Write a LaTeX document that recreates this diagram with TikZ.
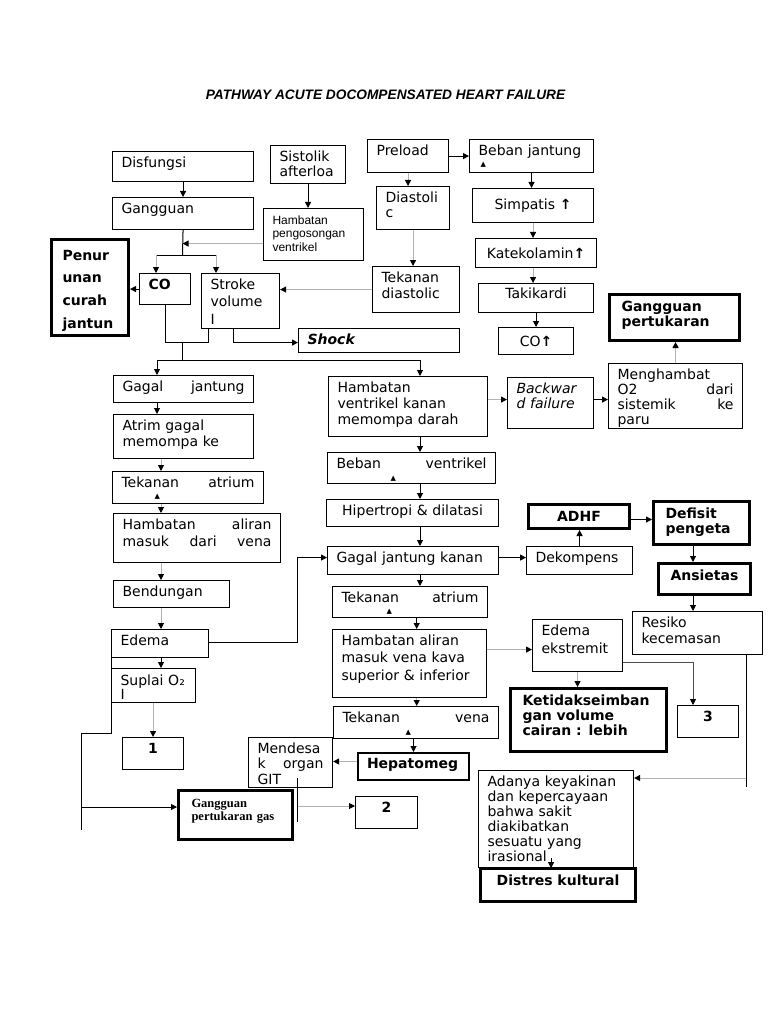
\documentclass[tikz,border=0pt]{standalone}
\usepackage{fontspec}
\setmainfont{DejaVu Sans}
\newfontfamily\arialfont{Liberation Sans}
\newfontfamily\timesfont{Liberation Serif}
\usetikzlibrary{arrows.meta}
\newcommand\smalltri{{\fontsize{7}{7}\selectfont ▲}}

\begin{document}
\begin{tikzpicture}[x=1pt,y=-1pt,line width=1pt,
    >={Triangle[length=6pt,width=6pt,color=black]},
    box/.style 2 args={draw, line width=1.1pt, anchor=north west,
      inner xsep=9pt, inner ysep=5pt, text height=10.5pt,
      text width=#1pt-2*\pgfkeysvalueof{/pgf/inner xsep},
      text depth=#2pt-10.5pt-2*\pgfkeysvalueof{/pgf/inner ysep},
      align=left, font=\fontsize{14}{16}\selectfont},
    thick box/.style={line width=3pt, inner xsep=12pt, inner ysep=6pt,
      font=\fontsize{14}{15}\selectfont\bfseries},
    num/.style={align=center, font=\fontsize{14}{16}\selectfont\bfseries},
    gray arrow/.style={->, draw=black!30}]
    \useasboundingbox[fill=white] (0,0) rectangle (768,1024);

    \node (ttl) at (385.5,95) {\arialfont\fontsize{13.7}{16}\selectfont\bfseries\itshape PATHWAY ACUTE DOCOMPENSATED HEART FAILURE};

    \node[box={141}{30}] (dis) at (112,151) {Disfungsi};
    \node[box={141}{32}] (gg) at (112,197) {Gangguan};
    \node[box={75}{38}, font=\fontsize{14}{15}\selectfont] (sis) at (270,145) {Sistolik\\afterloa};
    \node[box={100}{52}, font=\arialfont\fontsize{12}{13.7}\selectfont] (hp) at (263,208) {Hambatan\\pengosongan\\ventrikel};
    \node[box={77}{96}, thick box, inner xsep=11pt, inner ysep=10pt, font=\fontsize{14}{22.7}\selectfont\bfseries] (pen) at (50,238) {Penur\\unan\\curah\\jantun};
    \node[box={51}{31}, font=\fontsize{14}{16}\selectfont\bfseries] (co) at (139,273) {CO};
    \node[box={78}{55}, font=\fontsize{14}{17.5}\selectfont] (sv) at (201,273) {Stroke\\volume\\I};
    \node[box={161}{24}, font=\fontsize{14}{16}\selectfont\bfseries\itshape] (sh) at (298,328) {Shock};

    \node[box={81}{33}] (pre) at (367,139) {Preload};
    \node[box={124}{33}] (bj) at (469,139) {Beban~jantung\\[-5pt]\hspace*{2pt}\smalltri};
    \node[box={73}{43}, font=\fontsize{14}{15}\selectfont] (dia) at (376,186) {Diastoli\\c};
    \node[box={87}{46}] (td) at (372,266) {Tekanan\\diastolic};
    \node[box={121}{34}, align=center, inner ysep=10pt] (sim) at (472,188) {Simpatis \textbf{↑}};
    \node[box={121}{29}, align=center, inner ysep=9pt] (kat) at (475,238) {Katekolamin\textbf{↑}};
    \node[box={115}{29}, align=center, inner ysep=4pt] (tak) at (478,283) {Takikardi};
    \node[box={75}{26}, align=center, inner ysep=8pt] (cou) at (498,327) {CO\textbf{↑}};
    \node[box={130}{46}, thick box] (gpu) at (608,293) {Gangguan\\pertukaran};
    \node[box={134}{65}, font=\fontsize{14}{15}\selectfont] (mh) at (608,363) {Menghambat\\O2\hfill dari\\sistemik\hfill ke\\paru};
    \node[box={86}{51}, font=\fontsize{14}{15.5}\selectfont\itshape] (bf) at (507,377) {Backwar\\d failure};

    \node[box={140}{27}] (gj) at (113,375) {Gagal\hfill jantung};
    \node[box={140}{44}] (ag) at (113,414) {Atrim gagal\\memompa ke};
    \node[box={151}{32}] (ta) at (112,471) {Tekanan\hfill atrium\\[-5pt]\hspace*{33pt}\smalltri};
    \node[box={167}{49}, font=\fontsize{14}{17}\selectfont] (ha) at (113,513) {Hambatan\hfill aliran\\masuk\hfill dari\hfill vena};
    \node[box={116}{27}] (ben) at (113,580) {Bendungan};
    \node[box={97}{28}] (ed) at (111,629) {Edema};
    \node[box={84}{34}, inner ysep=6.5pt, font=\fontsize{14}{14}\selectfont] (sup) at (111,668) {Suplai~O₂\\I};
    \node[box={61}{32}, num] (one) at (122,737) {1};

    \node[box={159}{60}] (hvk) at (328,376) {Hambatan\\ventrikel kanan\\memompa darah};
    \node[box={168}{31}] (bv) at (327,452) {Beban\hfill ventrikel\\[-4pt]\hspace*{54pt}\smalltri};
    \node[box={172}{27}, align=center] (hd) at (326,499) {Hipertropi \& dilatasi};
    \node[box={171}{28}] (gjk) at (327,546) {Gagal jantung kanan};
    \node[box={155}{31}] (tar) at (332,586) {Tekanan\hfill atrium\\[-4.5pt]\hspace*{45pt}\smalltri};
    \node[box={154}{68}, font=\fontsize{14}{17.5}\selectfont] (hvc) at (332,629) {Hambatan aliran\\masuk vena kava\\superior \& inferior};
    \node[box={165}{32}] (tv) at (333,706) {Tekanan\hfill vena\\[-4pt]\hspace*{63pt}\smalltri};
    \node[box={111}{27}, line width=2pt, font=\fontsize{14}{16}\selectfont\bfseries] (hep) at (357,752) {Hepatomeg};
    \node[box={84}{50}, font=\fontsize{14}{15.5}\selectfont] (mdk) at (248,737) {Mendesa\\k\hfill organ\\GIT};
    \node[box={114}{49}, thick box, inner xsep=13pt, font=\timesfont\fontsize{12.5}{13.5}\selectfont\bfseries] (gpg) at (177,789) {Gangguan\\pertukaran~gas};
    \node[box={62}{32}, num] (two) at (355,796) {2};

    \node[box={101}{24}, thick box, align=center] (adhf) at (527,503) {ADHF};
    \node[box={106}{28}] (dk) at (526,546) {Dekompens};
    \node[box={96}{43}, thick box] (def) at (652,500) {Defisit\\pengeta};
    \node[box={92}{31}, thick box, align=center] (ans) at (657,562) {Ansietas};
    \node[box={130}{43}, font=\fontsize{14}{16.7}\selectfont] (res) at (632,611) {Resiko\\kecemasan};
    \node[box={90}{52}, font=\fontsize{14}{18}\selectfont] (ee) at (532,619) {Edema\\ekstremit};
    \node[box={156}{63}, thick box] (ket) at (509,687) {Ketidakseimban\\gan volume\\cairan : lebih};
    \node[box={61}{32}, num] (three) at (677,705) {3};
    \node[box={155}{97}, font=\fontsize{14}{15}\selectfont] (ada) at (478,770) {Adanya keyakinan\\dan kepercayaan\\bahwa sakit\\diakibatkan\\sesuatu yang\\irasional};
    \node[box={155}{33}, thick box, align=center] (dist) at (479,867) {Distres~kultural};

    \coordinate (j1) at (182.5,255);
    \coordinate (jl) at (156,255);
    \coordinate (jr) at (216,255);
    \coordinate (jb) at (182.5,342);
    \coordinate (jc) at (182.5,360);
    \coordinate (jgl) at (157,360);
    \coordinate (jgr) at (420,360);
    \coordinate (lc) at (161,0);
    \coordinate (rc) at (420,0);
    \coordinate (rd) at (416.7,0);
    \coordinate (ex) at (297,0);
    \coordinate (e3) at (693,0);
    \coordinate (rt) at (746,0);

    \path [->] (dis) edge (gg);
    \path [->] (sis.south) edge (sis.south |- hp.north);
    \draw (gg.south) -- (j1);
    \draw (jl) -- (jr);
    \draw [gray arrow] (jl) -- (jl |- co.north);
    \draw [gray arrow] (jr) -- (jr |- sv.north);
    \draw [gray arrow] ([yshift=-9pt]hp.west) -- ([yshift=-9pt]hp.west -| j1);
    \path [->] (co.west) edge (co.west -| pen.east);
    \draw (co.south) |- (jb);
    \draw ([xshift=-32pt]sv.south) |- (jb);
    \draw (jb) -- (jc);
    \draw (jgl) -- (jgr);
    \path [->] (jgl) edge (jgl |- gj.north);
    \path [->] (jgr) edge (jgr |- hvk.north);
    \draw [->] ([xshift=-7pt]sv.south) |- ([yshift=-2pt]sh.west);
    \draw [gray arrow] (td.west) -- (td.west -| sv.east);

    \path [->] (pre) edge (bj);
    \draw [gray arrow] (pre.south) -- (pre.south |- dia.north);
    \draw [gray arrow] (dia.south) -- (dia.south |- td.north);
    \path [->] (bj.south) edge (bj.south |- sim.north);
    \draw [gray arrow] (sim.south) -- (sim.south |- kat.north);
    \draw [gray arrow] (sim.south |- kat.south) -- (sim.south |- tak.north);
    \path [->] (tak.south) edge (tak.south |- cou.north);
    \draw [gray arrow] (mh.north) -- (mh.north |- gpu.south);
    \path [->] ([yshift=3.5pt]bf.east) edge ([yshift=3.5pt]bf.east -| mh.west);
    \draw [gray arrow] ([yshift=7pt]hvk.east) -- ([yshift=7pt]hvk.east -| bf.west);

    \path [->] (gj.south -| jgl) edge (jgl |- ag.north);
    \draw [gray arrow] (ag.south -| lc) -- (lc |- ta.north);
    \draw [gray arrow] (ta.south -| lc) -- (lc |- ha.north);
    \draw [gray arrow] (ha.south -| lc) -- (lc |- ben.north);
    \draw [gray arrow] (ben.south -| lc) -- (lc |- ed.north);
    \path [->] (ed.south -| lc) edge (lc |- sup.north);
    \draw [gray arrow] (sup.south -| one.north) -- (one.north);

    \path [->] (hvk.south -| rc) edge (rc |- bv.north);
    \path [->] (bv.south -| rc) edge (rc |- hd.north);
    \path [->] (hd.south -| rc) edge (rc |- gjk.north);
    \path [->] (gjk.south -| rc) edge (rc |- tar.north);
    \path [->] (tar.south -| rd) edge (rd |- hvc.north);
    \draw [gray arrow] (hvc.south -| rd) -- (rd |- tv.north);
    \path [->] (tv.south -| hep.north) edge (hep.north);
    \draw [gray arrow] ([yshift=5pt]hep.west) -- ([yshift=5pt]hep.west -| mdk.east);

    \coordinate (gin) at ([yshift=3pt]gjk.west);
    \draw [->] ([yshift=1.3pt]ed.east) -| (gin -| ex) -- (gin);
    \coordinate (la) at (111,637);
    \coordinate (lb) at (111,733);
    \coordinate (lx) at (81,733);
    \coordinate (ld) at (81,830);
    \coordinate (le) at (81,807);
    \draw (la) -- (lb) -- (lx) -- (ld);
    \path [->] (le) edge (le -| gpg.west);
    \coordinate (mt) at (297,778);
    \coordinate (mb) at (297,822);
    \coordinate (mm) at (298,806);
    \draw (mt) -- (mb);
    \draw [gray arrow] (mm) -- (mm -| two.west);

    \draw [gray arrow] ([yshift=14pt]hvc.east) -- ([yshift=14pt]hvc.east -| ee.west);
    \draw [gray arrow] (ee.south) -- (ee.south |- ket.north);
    \draw [->, draw=black!70] ([yshift=-16.7pt]ee.east) -| (e3 |- three.north);
    \path [->] ([yshift=3pt]gjk.east) edge ([yshift=3pt]gjk.east -| dk.west);
    \path [->] (dk.north) edge (dk.north |- adhf.south);
    \path [->] ([yshift=-3pt]adhf.east) edge ([yshift=-3pt]adhf.east -| def.west);
    \path [->] (def.south -| e3) edge (e3 |- ans.north);
    \path [->] (ans.south -| e3) edge (e3 |- res.north);
    \coordinate (ry) at (746,787);
    \coordinate (rm) at (746,778);
    \draw (res.south -| rt) -- (ry);
    \draw [gray arrow] (rm) -- (rm -| ada.east);
    \path [->] ([xshift=-5pt,yshift=10pt]ada.south) edge ([xshift=-5pt]ada.south);
\end{tikzpicture}
\end{document}
